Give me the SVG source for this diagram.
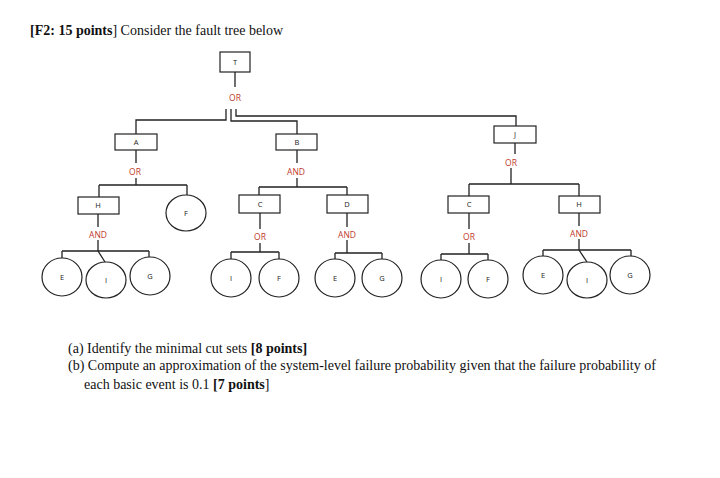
<svg xmlns="http://www.w3.org/2000/svg" width="720" height="478" viewBox="0 0 720 478">
<style>
.b{fill:#fff;stroke:#222;stroke-width:1.2}
.l{fill:none;stroke:#222;stroke-width:1.3}
.n{font-family:"Open Sans","DejaVu Sans",sans-serif;font-size:7.5px;text-anchor:middle;fill:#222}
.g{font-family:"Open Sans","DejaVu Sans",sans-serif;font-size:8.5px;text-anchor:middle;fill:#c0392b}
.t{font-family:"Liberation Serif",serif;font-size:14px;fill:#111}
</style>
<rect width="720" height="478" fill="#fff"/>
<text class="t" x="30" y="35" font-size="15.3"><tspan font-weight="bold">[F2: 15 points</tspan>] Consider the fault tree below</text>
<g id="connectors">
<path class="l" d="M235 72V87M226 109V120H136V134M231 109V121H297V134M236 109V116H516V126"/>
<path class="l" d="M136 150V163M136 178V185M99 185H187M99 185V197M187 185V195"/>
<path class="l" d="M98 214V227M98 240V251M62 251H149M62 251V258M149 251V257M98 251L105 262"/>
<path class="l" d="M297 150V163M297 178V187M259 187H347M259 187V195M347 187V195"/>
<path class="l" d="M260 213V229M260 243V252M231 252H279M231 252V259M279 252V259"/>
<path class="l" d="M347 213V227M347 240V253M335 253H382M335 253V259M382 253V259"/>
<path class="l" d="M515 143V154M511 168V184M469 184H579M469 184V196M579 184V196"/>
<path class="l" d="M469 213V229M469 243V254M441 254H488M441 254V260M488 254V260"/>
<path class="l" d="M579 213V226M579 239V250M543 250H631M543 250V256M631 250V256M579 250L587 262"/>
</g>
<g id="T"><rect class="b" x="220" y="52" width="30" height="20"/><text class="n" x="235" y="65">T</text></g>
<g id="gT"><text class="g" x="235" y="101">OR</text></g>
<g id="A"><rect class="b" x="115" y="134" width="42" height="16"/><text class="n" x="136" y="145">A</text><text class="g" x="135" y="175">OR</text></g>
<g id="B"><rect class="b" x="276" y="134" width="41" height="16"/><text class="n" x="297" y="145">B</text><text class="g" x="296" y="175">AND</text></g>
<g id="J"><rect class="b" x="494" y="126" width="42" height="17"/><text class="n" x="515" y="137">J</text><text class="g" x="511" y="166">OR</text></g>
<g id="H1"><rect class="b" x="78" y="197" width="41" height="17"/><text class="n" x="98" y="208">H</text><text class="g" x="98" y="238">AND</text></g>
<g id="F1"><ellipse class="b" cx="186" cy="213" rx="20" ry="18"/><text class="n" x="186" y="216">F</text></g>
<g id="C1"><rect class="b" x="239" y="195" width="41" height="18"/><text class="n" x="260" y="207">C</text><text class="g" x="260" y="240">OR</text></g>
<g id="D"><rect class="b" x="327" y="195" width="41" height="18"/><text class="n" x="347" y="207">D</text><text class="g" x="347" y="238">AND</text></g>
<g id="C2"><rect class="b" x="448" y="196" width="41" height="17"/><text class="n" x="469" y="207">C</text><text class="g" x="469" y="240">OR</text></g>
<g id="H2"><rect class="b" x="559" y="196" width="41" height="17"/><text class="n" x="579" y="207">H</text><text class="g" x="579" y="237">AND</text></g>
<g id="E1"><ellipse class="b" cx="62" cy="277" rx="20" ry="19"/><text class="n" x="62" y="280">E</text></g>
<g id="I1"><ellipse class="b" cx="106" cy="280" rx="20" ry="18"/><text class="n" x="106" y="283">I</text></g>
<g id="G1"><ellipse class="b" cx="150" cy="276" rx="20" ry="19"/><text class="n" x="150" y="279">G</text></g>
<g id="I2"><ellipse class="b" cx="231" cy="278" rx="20" ry="19"/><text class="n" x="231" y="281">I</text></g>
<g id="F2"><ellipse class="b" cx="279" cy="278" rx="20" ry="19"/><text class="n" x="279" y="281">F</text></g>
<g id="E2"><ellipse class="b" cx="335" cy="278" rx="20" ry="19"/><text class="n" x="335" y="281">E</text></g>
<g id="G2"><ellipse class="b" cx="382" cy="278" rx="20" ry="19"/><text class="n" x="382" y="281">G</text></g>
<g id="I3"><ellipse class="b" cx="441" cy="279" rx="20" ry="19"/><text class="n" x="441" y="282">I</text></g>
<g id="F3"><ellipse class="b" cx="488" cy="279" rx="20" ry="19"/><text class="n" x="488" y="282">F</text></g>
<g id="E3"><ellipse class="b" cx="543" cy="275" rx="20" ry="19"/><text class="n" x="543" y="278">E</text></g>
<g id="I4"><ellipse class="b" cx="587" cy="280" rx="20" ry="18"/><text class="n" x="587" y="283">I</text></g>
<g id="G3"><ellipse class="b" cx="630" cy="275" rx="20" ry="19"/><text class="n" x="630" y="278">G</text></g>
<text class="t" x="68" y="353">(a) Identify the minimal cut sets <tspan font-weight="bold">[8 points]</tspan></text>
<text class="t" x="68" y="370">(b) Compute an approximation of the system-level failure probability given that the failure probability of</text>
<text class="t" x="84" y="389">each basic event is 0.1 <tspan font-weight="bold">[7 points</tspan>]</text>
</svg>
